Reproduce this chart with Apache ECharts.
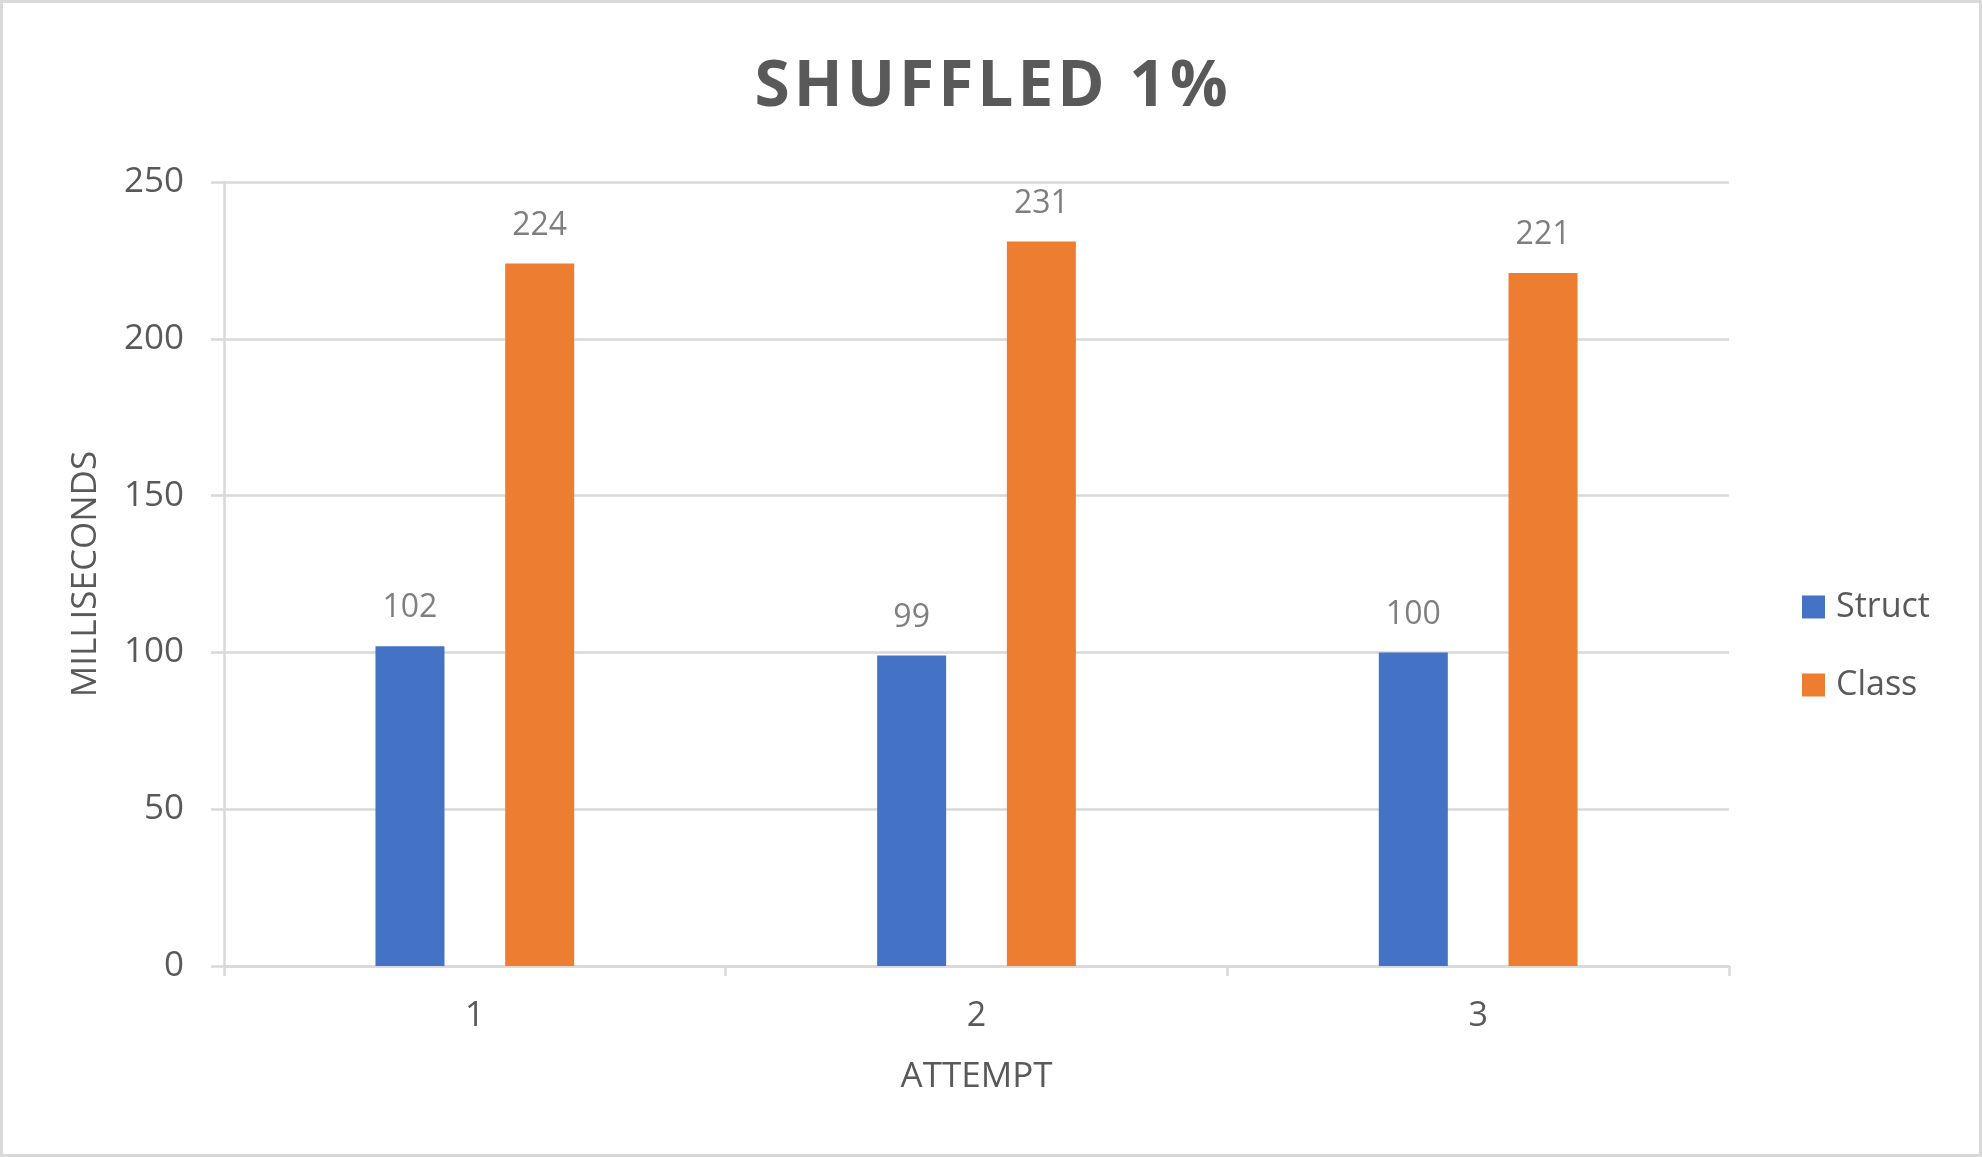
<!DOCTYPE html>
<html>
<head>
<meta charset="utf-8">
<script src="https://cdn.jsdelivr.net/npm/echarts@6/dist/echarts.min.js"></script>
<style>
  html, body { margin: 0; padding: 0; background: #fff; }
  #main { width: 1982px; height: 1157px; }
</style>
</head>
<body>
<div id="main"></div>
<script>
// chart data
const categories = ['1', '2', '3'];
const structTimes = [102, 99, 100];
const classTimes = [224, 231, 221];
const seriesNames = ['Struct', 'Class'];
const titleText = 'SHUFFLED 1%';

const textGrey = '#595959';
const lineGrey = '#d9d9d9';
const font = 'Open Sans';

// spread the title letters out a little, like the excel title
const spacedTitle = titleText.split('').map(c => '{s|' + c + '}').join('');

const chart = echarts.init(document.getElementById('main'));

chart.setOption({
  backgroundColor: '#fff',
  animation: false,
  title: {
    text: spacedTitle,
    left: 'center',
    top: 51,
    textStyle: {
      rich: {
        s: {
          fontFamily: font,
          fontSize: 64,
          fontWeight: 'bold',
          color: textGrey,
          padding: [0, 2, 0, 2]
        }
      }
    }
  },
  legend: {
    orient: 'vertical',
    left: 1797,
    top: 585,
    itemWidth: 23,
    itemHeight: 23,
    itemGap: 44,
    icon: 'rect',
    data: seriesNames,
    textStyle: { fontFamily: font, fontSize: 34, color: textGrey, padding: [0, 0, 0, 6] }
  },
  grid: { left: 224, right: 253, top: 182, bottom: 191 },
  xAxis: {
    type: 'category',
    data: categories,
    name: 'ATTEMPT',
    nameLocation: 'middle',
    nameGap: 94,
    nameTextStyle: { fontFamily: font, fontSize: 35, color: textGrey },
    axisLine: { lineStyle: { color: lineGrey, width: 2.5 } },
    axisTick: { show: true, length: 10, lineStyle: { color: lineGrey, width: 2.5 } },
    axisLabel: { fontFamily: font, fontSize: 34, color: textGrey, margin: 33 }
  },
  yAxis: {
    type: 'value',
    min: 0,
    max: 250,
    interval: 50,
    name: 'MILLISECONDS',
    nameLocation: 'middle',
    nameGap: 120,
    nameTextStyle: { fontFamily: font, fontSize: 35, color: textGrey },
    axisLine: { show: true, lineStyle: { color: lineGrey, width: 2.5 } },
    axisTick: { show: true, length: 13, lineStyle: { color: lineGrey, width: 2.5 } },
    axisLabel: { fontFamily: font, fontSize: 35, color: textGrey, margin: 40 },
    splitLine: { lineStyle: { color: lineGrey, width: 2.5 } }
  },
  graphic: [{
    type: 'rect',
    shape: { x: 1.5, y: 1.5, width: 1979, height: 1154 },
    style: { fill: 'none', stroke: lineGrey, lineWidth: 3 },
    silent: true
  }],
  series: [
    {
      name: seriesNames[0],
      type: 'bar',
      data: structTimes,
      barWidth: 69,
      barGap: '88%',
      itemStyle: { color: '#4472C4' },
      label: { show: true, position: 'top', distance: 22, fontFamily: font, fontSize: 32, color: '#7f7f7f' }
    },
    {
      name: seriesNames[1],
      type: 'bar',
      data: classTimes,
      barWidth: 69,
      barGap: '88%',
      itemStyle: { color: '#ED7D31' },
      label: { show: true, position: 'top', distance: 22, fontFamily: font, fontSize: 32, color: '#7f7f7f' }
    }
  ]
});
</script>
</body>
</html>
